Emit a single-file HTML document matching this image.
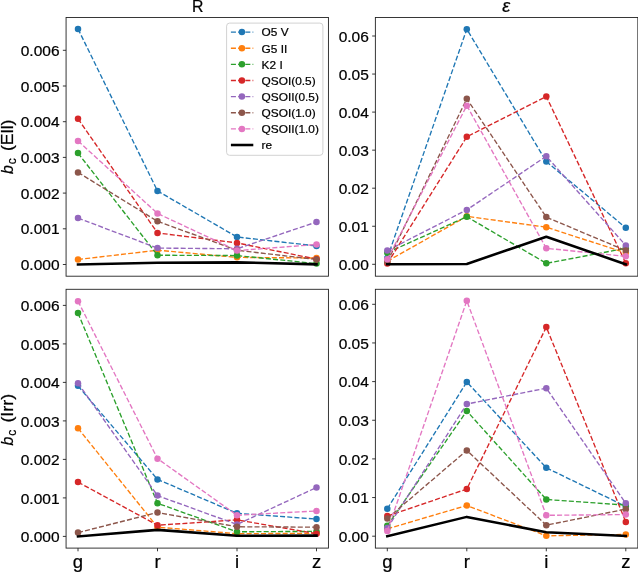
<!DOCTYPE html>
<html><head><meta charset="utf-8"><style>
html,body{margin:0;padding:0;background:#fff;}
svg{display:block;will-change:transform;}
text{font-family:"Liberation Sans",sans-serif;fill:#000;stroke:#000;stroke-width:0.22px;}
.tk{font-size:15.0px;}
.xt{font-size:18.5px;}
.ti{font-size:17px;}
.yl{font-size:15.9px;}
.lg{font-size:11.4px;}
</style></head><body>
<svg width="638" height="572" viewBox="0 0 638 572">
<rect width="638" height="572" fill="#fff"/>
<clipPath id="c0"><rect x="66.07" y="17.45" width="262.36" height="258.75"/></clipPath>
<g clip-path="url(#c0)">
<polyline points="78.00,28.88 157.50,190.96 237.00,237.01 316.50,245.94" fill="none" stroke="#1f77b4" stroke-width="1.36" stroke-dasharray="5.03 2.18" stroke-linecap="butt" stroke-linejoin="round"/>
<circle cx="78.00" cy="28.88" r="3.25" fill="#1f77b4"/>
<circle cx="157.50" cy="190.96" r="3.25" fill="#1f77b4"/>
<circle cx="237.00" cy="237.01" r="3.25" fill="#1f77b4"/>
<circle cx="316.50" cy="245.94" r="3.25" fill="#1f77b4"/>
<polyline points="78.00,259.50 157.50,250.22 237.00,257.36 316.50,258.07" fill="none" stroke="#ff7f0e" stroke-width="1.36" stroke-dasharray="5.03 2.18" stroke-linecap="butt" stroke-linejoin="round"/>
<circle cx="78.00" cy="259.50" r="3.25" fill="#ff7f0e"/>
<circle cx="157.50" cy="250.22" r="3.25" fill="#ff7f0e"/>
<circle cx="237.00" cy="257.36" r="3.25" fill="#ff7f0e"/>
<circle cx="316.50" cy="258.07" r="3.25" fill="#ff7f0e"/>
<polyline points="78.00,153.12 157.50,255.22 237.00,255.57 316.50,263.61" fill="none" stroke="#2ca02c" stroke-width="1.36" stroke-dasharray="5.03 2.18" stroke-linecap="butt" stroke-linejoin="round"/>
<circle cx="78.00" cy="153.12" r="3.25" fill="#2ca02c"/>
<circle cx="157.50" cy="255.22" r="3.25" fill="#2ca02c"/>
<circle cx="237.00" cy="255.57" r="3.25" fill="#2ca02c"/>
<circle cx="316.50" cy="263.61" r="3.25" fill="#2ca02c"/>
<polyline points="78.00,118.84 157.50,232.91 237.00,242.90 316.50,259.14" fill="none" stroke="#d62728" stroke-width="1.36" stroke-dasharray="5.03 2.18" stroke-linecap="butt" stroke-linejoin="round"/>
<circle cx="78.00" cy="118.84" r="3.25" fill="#d62728"/>
<circle cx="157.50" cy="232.91" r="3.25" fill="#d62728"/>
<circle cx="237.00" cy="242.90" r="3.25" fill="#d62728"/>
<circle cx="316.50" cy="259.14" r="3.25" fill="#d62728"/>
<polyline points="78.00,218.09 157.50,248.08 237.00,248.79 316.50,222.02" fill="none" stroke="#9467bd" stroke-width="1.36" stroke-dasharray="5.03 2.18" stroke-linecap="butt" stroke-linejoin="round"/>
<circle cx="78.00" cy="218.09" r="3.25" fill="#9467bd"/>
<circle cx="157.50" cy="248.08" r="3.25" fill="#9467bd"/>
<circle cx="237.00" cy="248.79" r="3.25" fill="#9467bd"/>
<circle cx="316.50" cy="222.02" r="3.25" fill="#9467bd"/>
<polyline points="78.00,172.39 157.50,221.30 237.00,250.22 316.50,259.50" fill="none" stroke="#8c564b" stroke-width="1.36" stroke-dasharray="5.03 2.18" stroke-linecap="butt" stroke-linejoin="round"/>
<circle cx="78.00" cy="172.39" r="3.25" fill="#8c564b"/>
<circle cx="157.50" cy="221.30" r="3.25" fill="#8c564b"/>
<circle cx="237.00" cy="250.22" r="3.25" fill="#8c564b"/>
<circle cx="316.50" cy="259.50" r="3.25" fill="#8c564b"/>
<polyline points="78.00,140.98 157.50,213.45 237.00,250.58 316.50,244.51" fill="none" stroke="#e377c2" stroke-width="1.36" stroke-dasharray="5.03 2.18" stroke-linecap="butt" stroke-linejoin="round"/>
<circle cx="78.00" cy="140.98" r="3.25" fill="#e377c2"/>
<circle cx="157.50" cy="213.45" r="3.25" fill="#e377c2"/>
<circle cx="237.00" cy="250.58" r="3.25" fill="#e377c2"/>
<circle cx="316.50" cy="244.51" r="3.25" fill="#e377c2"/>
<polyline points="78.00,264.50 157.50,262.71 237.00,262.36 316.50,264.32" fill="none" stroke="#000" stroke-width="2.55" stroke-linecap="square" stroke-linejoin="round"/>
</g>
<rect x="66.07" y="17.45" width="262.36" height="258.75" fill="none" stroke="#222" stroke-width="0.9"/>
<line x1="62.87" y1="264.50" x2="66.07" y2="264.50" stroke="#222" stroke-width="0.9"/>
<text transform="translate(59.57,270.10) scale(1.035,1)" text-anchor="end" class="tk">0.000</text>
<line x1="62.87" y1="228.80" x2="66.07" y2="228.80" stroke="#222" stroke-width="0.9"/>
<text transform="translate(59.57,234.40) scale(1.035,1)" text-anchor="end" class="tk">0.001</text>
<line x1="62.87" y1="193.10" x2="66.07" y2="193.10" stroke="#222" stroke-width="0.9"/>
<text transform="translate(59.57,198.70) scale(1.035,1)" text-anchor="end" class="tk">0.002</text>
<line x1="62.87" y1="157.40" x2="66.07" y2="157.40" stroke="#222" stroke-width="0.9"/>
<text transform="translate(59.57,163.00) scale(1.035,1)" text-anchor="end" class="tk">0.003</text>
<line x1="62.87" y1="121.70" x2="66.07" y2="121.70" stroke="#222" stroke-width="0.9"/>
<text transform="translate(59.57,127.30) scale(1.035,1)" text-anchor="end" class="tk">0.004</text>
<line x1="62.87" y1="86.00" x2="66.07" y2="86.00" stroke="#222" stroke-width="0.9"/>
<text transform="translate(59.57,91.60) scale(1.035,1)" text-anchor="end" class="tk">0.005</text>
<line x1="62.87" y1="50.30" x2="66.07" y2="50.30" stroke="#222" stroke-width="0.9"/>
<text transform="translate(59.57,55.90) scale(1.035,1)" text-anchor="end" class="tk">0.006</text>
<clipPath id="c1"><rect x="375.37" y="17.45" width="262.46" height="258.75"/></clipPath>
<g clip-path="url(#c1)">
<polyline points="387.30,258.02 466.80,29.15 546.30,161.56 625.80,227.77" fill="none" stroke="#1f77b4" stroke-width="1.36" stroke-dasharray="5.03 2.18" stroke-linecap="butt" stroke-linejoin="round"/>
<circle cx="387.30" cy="258.02" r="3.25" fill="#1f77b4"/>
<circle cx="466.80" cy="29.15" r="3.25" fill="#1f77b4"/>
<circle cx="546.30" cy="161.56" r="3.25" fill="#1f77b4"/>
<circle cx="625.80" cy="227.77" r="3.25" fill="#1f77b4"/>
<polyline points="387.30,261.26 466.80,216.36 546.30,227.20 625.80,252.89" fill="none" stroke="#ff7f0e" stroke-width="1.36" stroke-dasharray="5.03 2.18" stroke-linecap="butt" stroke-linejoin="round"/>
<circle cx="387.30" cy="261.26" r="3.25" fill="#ff7f0e"/>
<circle cx="466.80" cy="216.36" r="3.25" fill="#ff7f0e"/>
<circle cx="546.30" cy="227.20" r="3.25" fill="#ff7f0e"/>
<circle cx="625.80" cy="252.89" r="3.25" fill="#ff7f0e"/>
<polyline points="387.30,252.69 466.80,216.74 546.30,263.31 625.80,248.32" fill="none" stroke="#2ca02c" stroke-width="1.36" stroke-dasharray="5.03 2.18" stroke-linecap="butt" stroke-linejoin="round"/>
<circle cx="387.30" cy="252.69" r="3.25" fill="#2ca02c"/>
<circle cx="466.80" cy="216.74" r="3.25" fill="#2ca02c"/>
<circle cx="546.30" cy="263.31" r="3.25" fill="#2ca02c"/>
<circle cx="625.80" cy="248.32" r="3.25" fill="#2ca02c"/>
<polyline points="387.30,263.54 466.80,136.83 546.30,96.50 625.80,263.16" fill="none" stroke="#d62728" stroke-width="1.36" stroke-dasharray="5.03 2.18" stroke-linecap="butt" stroke-linejoin="round"/>
<circle cx="387.30" cy="263.54" r="3.25" fill="#d62728"/>
<circle cx="466.80" cy="136.83" r="3.25" fill="#d62728"/>
<circle cx="546.30" cy="96.50" r="3.25" fill="#d62728"/>
<circle cx="625.80" cy="263.16" r="3.25" fill="#d62728"/>
<polyline points="387.30,250.60 466.80,209.89 546.30,156.24 625.80,245.47" fill="none" stroke="#9467bd" stroke-width="1.36" stroke-dasharray="5.03 2.18" stroke-linecap="butt" stroke-linejoin="round"/>
<circle cx="387.30" cy="250.60" r="3.25" fill="#9467bd"/>
<circle cx="466.80" cy="209.89" r="3.25" fill="#9467bd"/>
<circle cx="546.30" cy="156.24" r="3.25" fill="#9467bd"/>
<circle cx="625.80" cy="245.47" r="3.25" fill="#9467bd"/>
<polyline points="387.30,261.83 466.80,98.78 546.30,217.12 625.80,250.60" fill="none" stroke="#8c564b" stroke-width="1.36" stroke-dasharray="5.03 2.18" stroke-linecap="butt" stroke-linejoin="round"/>
<circle cx="387.30" cy="261.83" r="3.25" fill="#8c564b"/>
<circle cx="466.80" cy="98.78" r="3.25" fill="#8c564b"/>
<circle cx="546.30" cy="217.12" r="3.25" fill="#8c564b"/>
<circle cx="625.80" cy="250.60" r="3.25" fill="#8c564b"/>
<polyline points="387.30,259.35 466.80,105.63 546.30,248.32 625.80,256.31" fill="none" stroke="#e377c2" stroke-width="1.36" stroke-dasharray="5.03 2.18" stroke-linecap="butt" stroke-linejoin="round"/>
<circle cx="387.30" cy="259.35" r="3.25" fill="#e377c2"/>
<circle cx="466.80" cy="105.63" r="3.25" fill="#e377c2"/>
<circle cx="546.30" cy="248.32" r="3.25" fill="#e377c2"/>
<circle cx="625.80" cy="256.31" r="3.25" fill="#e377c2"/>
<polyline points="387.30,264.30 466.80,263.92 546.30,236.71 625.80,264.30" fill="none" stroke="#000" stroke-width="2.55" stroke-linecap="square" stroke-linejoin="round"/>
</g>
<rect x="375.37" y="17.45" width="262.46" height="258.75" fill="none" stroke="#222" stroke-width="0.9"/>
<line x1="372.17" y1="264.30" x2="375.37" y2="264.30" stroke="#222" stroke-width="0.9"/>
<text transform="translate(368.87,269.90) scale(1.035,1)" text-anchor="end" class="tk">0.00</text>
<line x1="372.17" y1="226.25" x2="375.37" y2="226.25" stroke="#222" stroke-width="0.9"/>
<text transform="translate(368.87,231.85) scale(1.035,1)" text-anchor="end" class="tk">0.01</text>
<line x1="372.17" y1="188.20" x2="375.37" y2="188.20" stroke="#222" stroke-width="0.9"/>
<text transform="translate(368.87,193.80) scale(1.035,1)" text-anchor="end" class="tk">0.02</text>
<line x1="372.17" y1="150.15" x2="375.37" y2="150.15" stroke="#222" stroke-width="0.9"/>
<text transform="translate(368.87,155.75) scale(1.035,1)" text-anchor="end" class="tk">0.03</text>
<line x1="372.17" y1="112.10" x2="375.37" y2="112.10" stroke="#222" stroke-width="0.9"/>
<text transform="translate(368.87,117.70) scale(1.035,1)" text-anchor="end" class="tk">0.04</text>
<line x1="372.17" y1="74.05" x2="375.37" y2="74.05" stroke="#222" stroke-width="0.9"/>
<text transform="translate(368.87,79.65) scale(1.035,1)" text-anchor="end" class="tk">0.05</text>
<line x1="372.17" y1="36.00" x2="375.37" y2="36.00" stroke="#222" stroke-width="0.9"/>
<text transform="translate(368.87,41.60) scale(1.035,1)" text-anchor="end" class="tk">0.06</text>
<clipPath id="c2"><rect x="66.07" y="289.30" width="262.36" height="258.80"/></clipPath>
<g clip-path="url(#c2)">
<polyline points="78.00,385.87 157.50,479.42 237.00,513.30 316.50,519.07" fill="none" stroke="#1f77b4" stroke-width="1.36" stroke-dasharray="5.03 2.18" stroke-linecap="butt" stroke-linejoin="round"/>
<circle cx="78.00" cy="385.87" r="3.25" fill="#1f77b4"/>
<circle cx="157.50" cy="479.42" r="3.25" fill="#1f77b4"/>
<circle cx="237.00" cy="513.30" r="3.25" fill="#1f77b4"/>
<circle cx="316.50" cy="519.07" r="3.25" fill="#1f77b4"/>
<polyline points="78.00,428.21 157.50,527.16 237.00,533.70 316.50,533.32" fill="none" stroke="#ff7f0e" stroke-width="1.36" stroke-dasharray="5.03 2.18" stroke-linecap="butt" stroke-linejoin="round"/>
<circle cx="78.00" cy="428.21" r="3.25" fill="#ff7f0e"/>
<circle cx="157.50" cy="527.16" r="3.25" fill="#ff7f0e"/>
<circle cx="237.00" cy="533.70" r="3.25" fill="#ff7f0e"/>
<circle cx="316.50" cy="533.32" r="3.25" fill="#ff7f0e"/>
<polyline points="78.00,313.10 157.50,503.29 237.00,531.78 316.50,531.39" fill="none" stroke="#2ca02c" stroke-width="1.36" stroke-dasharray="5.03 2.18" stroke-linecap="butt" stroke-linejoin="round"/>
<circle cx="78.00" cy="313.10" r="3.25" fill="#2ca02c"/>
<circle cx="157.50" cy="503.29" r="3.25" fill="#2ca02c"/>
<circle cx="237.00" cy="531.78" r="3.25" fill="#2ca02c"/>
<circle cx="316.50" cy="531.39" r="3.25" fill="#2ca02c"/>
<polyline points="78.00,482.12 157.50,525.24 237.00,519.85 316.50,533.70" fill="none" stroke="#d62728" stroke-width="1.36" stroke-dasharray="5.03 2.18" stroke-linecap="butt" stroke-linejoin="round"/>
<circle cx="78.00" cy="482.12" r="3.25" fill="#d62728"/>
<circle cx="157.50" cy="525.24" r="3.25" fill="#d62728"/>
<circle cx="237.00" cy="519.85" r="3.25" fill="#d62728"/>
<circle cx="316.50" cy="533.70" r="3.25" fill="#d62728"/>
<polyline points="78.00,383.17 157.50,495.59 237.00,524.47 316.50,487.50" fill="none" stroke="#9467bd" stroke-width="1.36" stroke-dasharray="5.03 2.18" stroke-linecap="butt" stroke-linejoin="round"/>
<circle cx="78.00" cy="383.17" r="3.25" fill="#9467bd"/>
<circle cx="157.50" cy="495.59" r="3.25" fill="#9467bd"/>
<circle cx="237.00" cy="524.47" r="3.25" fill="#9467bd"/>
<circle cx="316.50" cy="487.50" r="3.25" fill="#9467bd"/>
<polyline points="78.00,532.55 157.50,512.53 237.00,526.77 316.50,527.16" fill="none" stroke="#8c564b" stroke-width="1.36" stroke-dasharray="5.03 2.18" stroke-linecap="butt" stroke-linejoin="round"/>
<circle cx="78.00" cy="532.55" r="3.25" fill="#8c564b"/>
<circle cx="157.50" cy="512.53" r="3.25" fill="#8c564b"/>
<circle cx="237.00" cy="526.77" r="3.25" fill="#8c564b"/>
<circle cx="316.50" cy="527.16" r="3.25" fill="#8c564b"/>
<polyline points="78.00,301.16 157.50,458.63 237.00,515.23 316.50,510.99" fill="none" stroke="#e377c2" stroke-width="1.36" stroke-dasharray="5.03 2.18" stroke-linecap="butt" stroke-linejoin="round"/>
<circle cx="78.00" cy="301.16" r="3.25" fill="#e377c2"/>
<circle cx="157.50" cy="458.63" r="3.25" fill="#e377c2"/>
<circle cx="237.00" cy="515.23" r="3.25" fill="#e377c2"/>
<circle cx="316.50" cy="510.99" r="3.25" fill="#e377c2"/>
<polyline points="78.00,536.40 157.50,529.86 237.00,535.82 316.50,535.63" fill="none" stroke="#000" stroke-width="2.55" stroke-linecap="square" stroke-linejoin="round"/>
</g>
<rect x="66.07" y="289.30" width="262.36" height="258.80" fill="none" stroke="#222" stroke-width="0.9"/>
<line x1="62.87" y1="536.40" x2="66.07" y2="536.40" stroke="#222" stroke-width="0.9"/>
<text transform="translate(59.57,542.00) scale(1.035,1)" text-anchor="end" class="tk">0.000</text>
<line x1="62.87" y1="497.90" x2="66.07" y2="497.90" stroke="#222" stroke-width="0.9"/>
<text transform="translate(59.57,503.50) scale(1.035,1)" text-anchor="end" class="tk">0.001</text>
<line x1="62.87" y1="459.40" x2="66.07" y2="459.40" stroke="#222" stroke-width="0.9"/>
<text transform="translate(59.57,465.00) scale(1.035,1)" text-anchor="end" class="tk">0.002</text>
<line x1="62.87" y1="420.90" x2="66.07" y2="420.90" stroke="#222" stroke-width="0.9"/>
<text transform="translate(59.57,426.50) scale(1.035,1)" text-anchor="end" class="tk">0.003</text>
<line x1="62.87" y1="382.40" x2="66.07" y2="382.40" stroke="#222" stroke-width="0.9"/>
<text transform="translate(59.57,388.00) scale(1.035,1)" text-anchor="end" class="tk">0.004</text>
<line x1="62.87" y1="343.90" x2="66.07" y2="343.90" stroke="#222" stroke-width="0.9"/>
<text transform="translate(59.57,349.50) scale(1.035,1)" text-anchor="end" class="tk">0.005</text>
<line x1="62.87" y1="305.40" x2="66.07" y2="305.40" stroke="#222" stroke-width="0.9"/>
<text transform="translate(59.57,311.00) scale(1.035,1)" text-anchor="end" class="tk">0.006</text>
<line x1="78.00" y1="548.10" x2="78.00" y2="551.30" stroke="#222" stroke-width="0.9"/>
<text x="78.00" y="568.20" text-anchor="middle" class="xt">g</text>
<line x1="157.50" y1="548.10" x2="157.50" y2="551.30" stroke="#222" stroke-width="0.9"/>
<text x="157.50" y="568.20" text-anchor="middle" class="xt">r</text>
<line x1="237.00" y1="548.10" x2="237.00" y2="551.30" stroke="#222" stroke-width="0.9"/>
<text x="237.00" y="568.20" text-anchor="middle" class="xt">i</text>
<line x1="316.50" y1="548.10" x2="316.50" y2="551.30" stroke="#222" stroke-width="0.9"/>
<text x="316.50" y="568.20" text-anchor="middle" class="xt">z</text>
<clipPath id="c3"><rect x="375.37" y="289.30" width="262.46" height="258.80"/></clipPath>
<g clip-path="url(#c3)">
<polyline points="387.30,508.76 466.80,381.99 546.30,467.79 625.80,506.44" fill="none" stroke="#1f77b4" stroke-width="1.36" stroke-dasharray="5.03 2.18" stroke-linecap="butt" stroke-linejoin="round"/>
<circle cx="387.30" cy="508.76" r="3.25" fill="#1f77b4"/>
<circle cx="466.80" cy="381.99" r="3.25" fill="#1f77b4"/>
<circle cx="546.30" cy="467.79" r="3.25" fill="#1f77b4"/>
<circle cx="625.80" cy="506.44" r="3.25" fill="#1f77b4"/>
<polyline points="387.30,528.86 466.80,505.47 546.30,535.81 625.80,534.46" fill="none" stroke="#ff7f0e" stroke-width="1.36" stroke-dasharray="5.03 2.18" stroke-linecap="butt" stroke-linejoin="round"/>
<circle cx="387.30" cy="528.86" r="3.25" fill="#ff7f0e"/>
<circle cx="466.80" cy="505.47" r="3.25" fill="#ff7f0e"/>
<circle cx="546.30" cy="535.81" r="3.25" fill="#ff7f0e"/>
<circle cx="625.80" cy="534.46" r="3.25" fill="#ff7f0e"/>
<polyline points="387.30,525.76 466.80,410.97 546.30,499.48 625.80,505.09" fill="none" stroke="#2ca02c" stroke-width="1.36" stroke-dasharray="5.03 2.18" stroke-linecap="butt" stroke-linejoin="round"/>
<circle cx="387.30" cy="525.76" r="3.25" fill="#2ca02c"/>
<circle cx="466.80" cy="410.97" r="3.25" fill="#2ca02c"/>
<circle cx="546.30" cy="499.48" r="3.25" fill="#2ca02c"/>
<circle cx="625.80" cy="505.09" r="3.25" fill="#2ca02c"/>
<polyline points="387.30,516.10 466.80,489.05 546.30,327.10 625.80,521.90" fill="none" stroke="#d62728" stroke-width="1.36" stroke-dasharray="5.03 2.18" stroke-linecap="butt" stroke-linejoin="round"/>
<circle cx="387.30" cy="516.10" r="3.25" fill="#d62728"/>
<circle cx="466.80" cy="489.05" r="3.25" fill="#d62728"/>
<circle cx="546.30" cy="327.10" r="3.25" fill="#d62728"/>
<circle cx="625.80" cy="521.90" r="3.25" fill="#d62728"/>
<polyline points="387.30,528.08 466.80,404.02 546.30,388.17 625.80,503.35" fill="none" stroke="#9467bd" stroke-width="1.36" stroke-dasharray="5.03 2.18" stroke-linecap="butt" stroke-linejoin="round"/>
<circle cx="387.30" cy="528.08" r="3.25" fill="#9467bd"/>
<circle cx="466.80" cy="404.02" r="3.25" fill="#9467bd"/>
<circle cx="546.30" cy="388.17" r="3.25" fill="#9467bd"/>
<circle cx="625.80" cy="503.35" r="3.25" fill="#9467bd"/>
<polyline points="387.30,518.42 466.80,450.40 546.30,525.18 625.80,509.15" fill="none" stroke="#8c564b" stroke-width="1.36" stroke-dasharray="5.03 2.18" stroke-linecap="butt" stroke-linejoin="round"/>
<circle cx="387.30" cy="518.42" r="3.25" fill="#8c564b"/>
<circle cx="466.80" cy="450.40" r="3.25" fill="#8c564b"/>
<circle cx="546.30" cy="525.18" r="3.25" fill="#8c564b"/>
<circle cx="625.80" cy="509.15" r="3.25" fill="#8c564b"/>
<polyline points="387.30,530.98 466.80,300.82 546.30,515.33 625.80,514.56" fill="none" stroke="#e377c2" stroke-width="1.36" stroke-dasharray="5.03 2.18" stroke-linecap="butt" stroke-linejoin="round"/>
<circle cx="387.30" cy="530.98" r="3.25" fill="#e377c2"/>
<circle cx="466.80" cy="300.82" r="3.25" fill="#e377c2"/>
<circle cx="546.30" cy="515.33" r="3.25" fill="#e377c2"/>
<circle cx="625.80" cy="514.56" r="3.25" fill="#e377c2"/>
<polyline points="387.30,536.20 466.80,516.88 546.30,532.34 625.80,536.01" fill="none" stroke="#000" stroke-width="2.55" stroke-linecap="square" stroke-linejoin="round"/>
</g>
<rect x="375.37" y="289.30" width="262.46" height="258.80" fill="none" stroke="#222" stroke-width="0.9"/>
<line x1="372.17" y1="536.20" x2="375.37" y2="536.20" stroke="#222" stroke-width="0.9"/>
<text transform="translate(368.87,541.80) scale(1.035,1)" text-anchor="end" class="tk">0.00</text>
<line x1="372.17" y1="497.55" x2="375.37" y2="497.55" stroke="#222" stroke-width="0.9"/>
<text transform="translate(368.87,503.15) scale(1.035,1)" text-anchor="end" class="tk">0.01</text>
<line x1="372.17" y1="458.90" x2="375.37" y2="458.90" stroke="#222" stroke-width="0.9"/>
<text transform="translate(368.87,464.50) scale(1.035,1)" text-anchor="end" class="tk">0.02</text>
<line x1="372.17" y1="420.25" x2="375.37" y2="420.25" stroke="#222" stroke-width="0.9"/>
<text transform="translate(368.87,425.85) scale(1.035,1)" text-anchor="end" class="tk">0.03</text>
<line x1="372.17" y1="381.60" x2="375.37" y2="381.60" stroke="#222" stroke-width="0.9"/>
<text transform="translate(368.87,387.20) scale(1.035,1)" text-anchor="end" class="tk">0.04</text>
<line x1="372.17" y1="342.95" x2="375.37" y2="342.95" stroke="#222" stroke-width="0.9"/>
<text transform="translate(368.87,348.55) scale(1.035,1)" text-anchor="end" class="tk">0.05</text>
<line x1="372.17" y1="304.30" x2="375.37" y2="304.30" stroke="#222" stroke-width="0.9"/>
<text transform="translate(368.87,309.90) scale(1.035,1)" text-anchor="end" class="tk">0.06</text>
<line x1="387.30" y1="548.10" x2="387.30" y2="551.30" stroke="#222" stroke-width="0.9"/>
<text x="387.30" y="568.20" text-anchor="middle" class="xt">g</text>
<line x1="466.80" y1="548.10" x2="466.80" y2="551.30" stroke="#222" stroke-width="0.9"/>
<text x="466.80" y="568.20" text-anchor="middle" class="xt">r</text>
<line x1="546.30" y1="548.10" x2="546.30" y2="551.30" stroke="#222" stroke-width="0.9"/>
<text x="546.30" y="568.20" text-anchor="middle" class="xt">i</text>
<line x1="625.80" y1="548.10" x2="625.80" y2="551.30" stroke="#222" stroke-width="0.9"/>
<text x="625.80" y="568.20" text-anchor="middle" class="xt">z</text>
<text transform="translate(197.6,11.8) scale(0.93,1)" text-anchor="middle" class="ti">R</text>
<text transform="translate(506.3,12.0) scale(1,1.07)" text-anchor="middle" class="ti" style="font-size:18px" font-style="italic">&#949;</text>
<g transform="translate(12.6,173.90) rotate(-90)">
<text x="0.0" y="0" class="yl" font-style="italic">b</text>
<text x="9.7" y="3.6" class="yl" style="font-size:12px">c</text>
<text transform="translate(22.8,0) scale(1.12,1)" class="yl">(Ell)</text>
</g>
<g transform="translate(12.6,445.40) rotate(-90)">
<text x="0.0" y="0" class="yl" font-style="italic">b</text>
<text x="9.7" y="3.6" class="yl" style="font-size:12px">c</text>
<text transform="translate(22.8,0) scale(1.12,1)" class="yl">(Irr)</text>
</g>
<rect x="226.6" y="23.1" width="96.3" height="132.2" rx="3" ry="3" fill="#fff" fill-opacity="0.8" stroke="#d2d2d2" stroke-width="1.0"/>
<line x1="230.9" y1="32.10" x2="253.3" y2="32.10" stroke="#1f77b4" stroke-width="1.36" stroke-dasharray="5.03 2.18"/>
<circle cx="241.9" cy="32.10" r="3.25" fill="#1f77b4"/>
<text transform="translate(261.6,36.40) scale(1.04,1)" class="lg">O5 V</text>
<line x1="230.9" y1="48.23" x2="253.3" y2="48.23" stroke="#ff7f0e" stroke-width="1.36" stroke-dasharray="5.03 2.18"/>
<circle cx="241.9" cy="48.23" r="3.25" fill="#ff7f0e"/>
<text transform="translate(261.6,52.53) scale(1.04,1)" class="lg">G5 II</text>
<line x1="230.9" y1="64.36" x2="253.3" y2="64.36" stroke="#2ca02c" stroke-width="1.36" stroke-dasharray="5.03 2.18"/>
<circle cx="241.9" cy="64.36" r="3.25" fill="#2ca02c"/>
<text transform="translate(261.6,68.66) scale(1.04,1)" class="lg">K2 I</text>
<line x1="230.9" y1="80.49" x2="253.3" y2="80.49" stroke="#d62728" stroke-width="1.36" stroke-dasharray="5.03 2.18"/>
<circle cx="241.9" cy="80.49" r="3.25" fill="#d62728"/>
<text transform="translate(261.6,84.79) scale(1.04,1)" class="lg">QSOI(0.5)</text>
<line x1="230.9" y1="96.62" x2="253.3" y2="96.62" stroke="#9467bd" stroke-width="1.36" stroke-dasharray="5.03 2.18"/>
<circle cx="241.9" cy="96.62" r="3.25" fill="#9467bd"/>
<text transform="translate(261.6,100.92) scale(1.04,1)" class="lg">QSOII(0.5)</text>
<line x1="230.9" y1="112.75" x2="253.3" y2="112.75" stroke="#8c564b" stroke-width="1.36" stroke-dasharray="5.03 2.18"/>
<circle cx="241.9" cy="112.75" r="3.25" fill="#8c564b"/>
<text transform="translate(261.6,117.05) scale(1.04,1)" class="lg">QSOI(1.0)</text>
<line x1="230.9" y1="128.88" x2="253.3" y2="128.88" stroke="#e377c2" stroke-width="1.36" stroke-dasharray="5.03 2.18"/>
<circle cx="241.9" cy="128.88" r="3.25" fill="#e377c2"/>
<text transform="translate(261.6,133.18) scale(1.04,1)" class="lg">QSOII(1.0)</text>
<line x1="230.9" y1="145.01" x2="253.3" y2="145.01" stroke="#000" stroke-width="2.55"/>
<text transform="translate(261.6,149.31) scale(1.04,1)" class="lg">re</text>
</svg>
</body></html>
